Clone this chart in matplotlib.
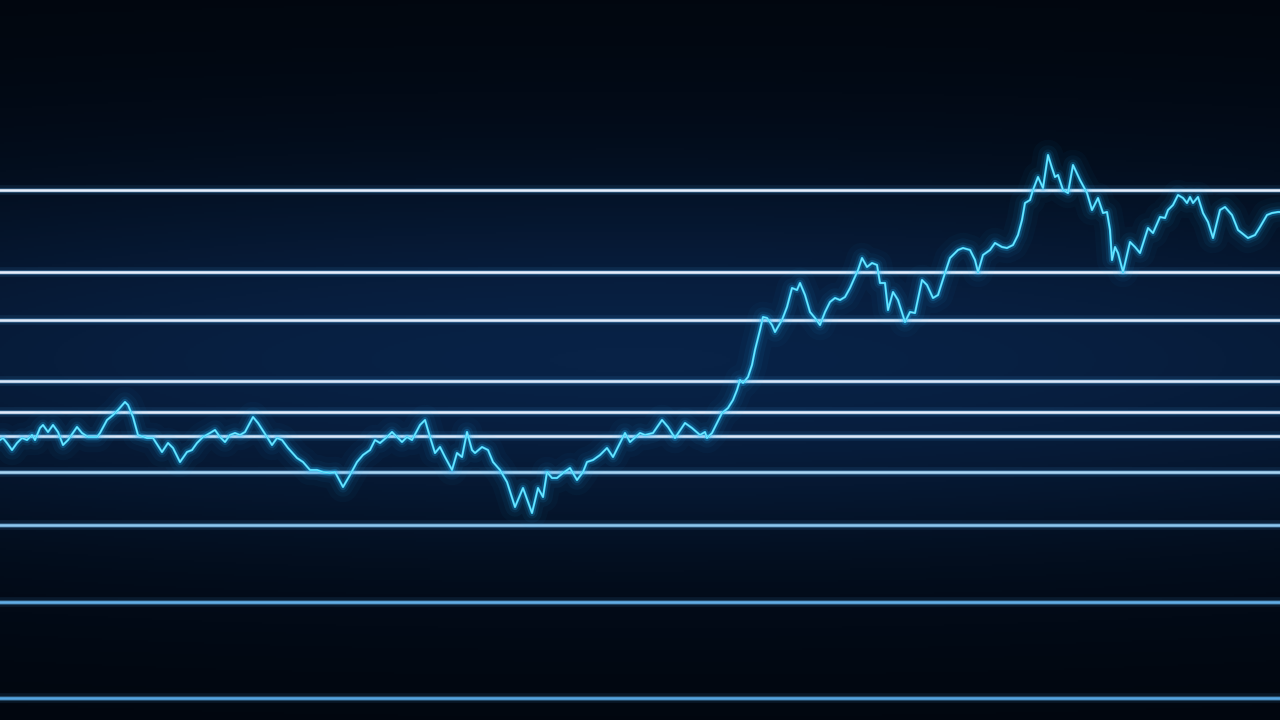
import numpy as np
import matplotlib
matplotlib.use("Agg")
import matplotlib.pyplot as plt
from matplotlib.colors import LinearSegmentedColormap

# Series (x position, level; level grows downward like the image)
x_vals = [0, 3, 7, 12, 17, 22, 27, 32, 35, 40, 43, 48, 53, 58, 63, 68, 77, 82, 88, 97, 100, 107, 113, 118, 125, 128,
          133, 138, 147, 153, 162, 168, 173, 180, 187, 192, 197, 203, 210, 215, 220, 225, 230, 235, 240, 245, 253, 258,
          267, 272, 277, 282, 288, 297, 303, 310, 317, 323, 330, 335, 343, 350, 357, 363, 370, 375, 380, 387, 392, 397,
          402, 407, 412, 420, 425, 430, 435, 440, 445, 452, 457, 462, 467, 472, 475, 482, 488, 493, 500, 507, 515, 523,
          532, 538, 543, 547, 552, 557, 563, 570, 577, 583, 587, 593, 600, 607, 613, 620, 625, 630, 640, 645, 653, 662,
          668, 675, 685, 692, 700, 705, 707, 712, 717, 722, 728, 733, 737, 740, 743, 748, 752, 755, 760, 763, 767, 772,
          775, 782, 787, 792, 797, 800, 805, 810, 815, 820, 825, 830, 835, 840, 845, 850, 858, 862, 867, 872, 877, 880,
          885, 888, 893, 898, 905, 910, 915, 922, 927, 933, 938, 945, 950, 953, 958, 963, 970, 975, 978, 983, 990, 995,
          1002, 1007, 1013, 1018, 1022, 1025, 1030, 1033, 1038, 1043, 1048, 1052, 1055, 1058, 1063, 1068, 1073, 1080,
          1087, 1092, 1098, 1103, 1107, 1110, 1112, 1115, 1118, 1123, 1130, 1135, 1140, 1148, 1153, 1160, 1165, 1168,
          1173, 1178, 1183, 1187, 1190, 1193, 1198, 1203, 1208, 1213, 1220, 1225, 1232, 1238, 1248, 1255, 1260, 1267,
          1272, 1278, 1280]
y_vals = [440, 438, 443, 450, 443, 438, 440, 435, 440, 428, 425, 432, 425, 432, 445, 440, 427, 433, 437, 437, 433, 420,
          415, 410, 402, 405, 417, 435, 438, 438, 452, 443, 448, 462, 452, 450, 443, 437, 433, 430, 437, 442, 435, 433,
          435, 432, 417, 423, 437, 445, 438, 440, 448, 458, 462, 470, 470, 472, 473, 472, 487, 475, 462, 455, 450, 440,
          443, 437, 432, 437, 442, 437, 440, 425, 420, 437, 453, 447, 457, 470, 453, 457, 432, 450, 453, 447, 450, 462,
          470, 482, 507, 488, 513, 488, 497, 472, 478, 478, 473, 468, 480, 472, 462, 460, 455, 448, 457, 443, 433, 442,
          433, 435, 433, 420, 427, 438, 423, 428, 435, 432, 438, 433, 423, 413, 408, 400, 390, 380, 383, 377, 365, 350,
          330, 317, 318, 325, 332, 320, 307, 288, 290, 283, 295, 312, 318, 325, 312, 302, 298, 300, 297, 288, 270, 258,
          267, 263, 265, 283, 283, 310, 292, 300, 322, 312, 313, 280, 285, 298, 295, 273, 258, 255, 250, 248, 250, 260,
          272, 255, 250, 243, 247, 248, 245, 235, 220, 203, 200, 190, 177, 188, 155, 168, 177, 175, 190, 193, 165, 180,
          193, 210, 198, 213, 212, 230, 260, 247, 253, 272, 242, 247, 253, 228, 233, 217, 218, 210, 205, 195, 198, 203,
          197, 203, 197, 213, 222, 238, 210, 207, 215, 230, 238, 235, 227, 215, 213, 212, 212]

# Horizontal reference levels and their colours
h_levels = [190, 272, 320, 381, 412, 436, 472, 525, 602, 698]
h_colors = ["#e6eefc", "#e6eefc", "#dfeafa", "#d8e6f8", "#e2ecfb", "#dce8f8", "#a9d4f2", "#8cc6ee", "#62aee6", "#55a4e0"]

W, H = 1280, 720
fig = plt.figure(figsize=(12.8, 7.2), dpi=100)
ax = fig.add_axes([0, 0, 1, 1])
ax.set_xlim(0, W)
ax.set_ylim(H, 0)
ax.axis("off")

# background gradient (navy, brightest around the middle band)
yy = np.linspace(0, 1, 360)[:, None]
xx = np.linspace(0, 1, 640)[None, :]
vert = np.exp(-((yy - 0.5) / 0.28) ** 2)
horiz = 1 - 0.2 * (2 * xx - 1) ** 2
val = vert * horiz
cmap = LinearSegmentedColormap.from_list("bg", ["#01060e", "#030e1e", "#061832", "#082246"])
ax.imshow(val, cmap=cmap, extent=[0, W, H, 0], aspect="auto", zorder=0, vmin=0, vmax=1.0)

# horizontal lines with glow
for lvl, col in zip(h_levels, h_colors):
    ax.axhline(lvl, color="#4aa8f0", lw=7, alpha=0.10, zorder=1)
    ax.axhline(lvl, color="#6abaf4", lw=3.5, alpha=0.30, zorder=1)
    ax.axhline(lvl, color=col, lw=1.9, zorder=2)

# glowing price line
for lw, a in [(22, 0.03), (14, 0.05), (8, 0.09), (4.5, 0.22)]:
    ax.plot(x_vals, y_vals, color="#20b8ff", lw=lw, alpha=a, solid_joinstyle="round", zorder=3)
ax.plot(x_vals, y_vals, color="#36d2f8", lw=1.6, zorder=4, solid_joinstyle="round")
ax.plot(x_vals, y_vals, color="#9cecff", lw=0.6, alpha=0.8, zorder=5, solid_joinstyle="round")

fig.savefig("out.png", dpi=100, facecolor="#020812")
